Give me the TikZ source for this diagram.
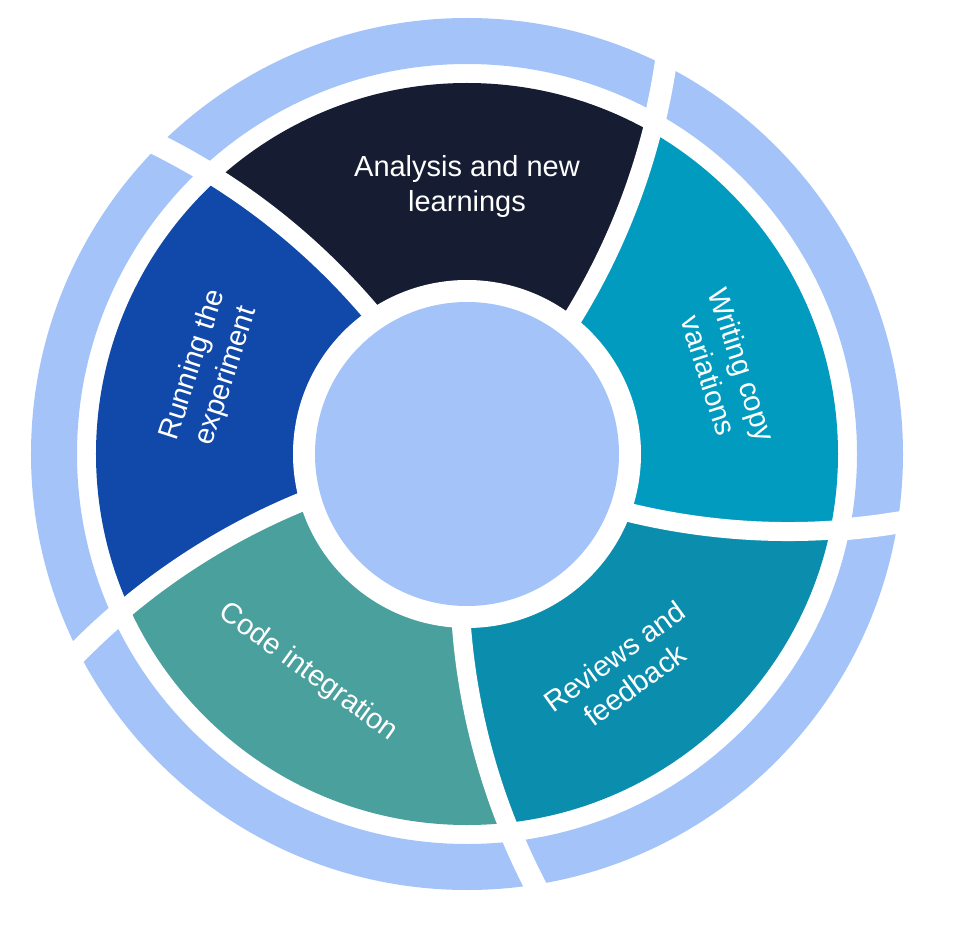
\documentclass[tikz,border=0pt]{standalone}
\usepackage{fontspec}
\setmainfont{Liberation Sans}

\definecolor{hubblue}{HTML}{A3C3F9}
\definecolor{navy}{HTML}{161D33}
\definecolor{cyanteal}{HTML}{009BBE}
\definecolor{deepteal}{HTML}{0B8EAD}
\definecolor{seagreen}{HTML}{4AA09D}
\definecolor{royal}{HTML}{1149AA}

\begin{document}
\begin{tikzpicture}[
    x=1pt, y=1pt,
    seglabel/.style={text=white, align=center, inner sep=0pt, font=\fontsize{29}{35}\selectfont},
    gapline/.style={white, line width=19pt},
    ringgap/.style={white, line width=22pt},
    ringband/.style={hubblue, line width=46pt}
]
    \useasboundingbox (-467,-472) rectangle (493,454);
    % outer ring
    \draw[ringband] (0,0) circle[radius=413];
    % ends of the curved dividers
    \foreach \j in {0,...,4} {
        \path ({133.75-72*\j}:678.6) ++({-32.5-72*\j}:675.3) coordinate (dIn\j);
        \path ({133.75-72*\j}:678.6) ++({-14-72*\j}:675.3) coordinate (dMid\j);
        \path ({133.75-72*\j}:678.6) ++({-6-72*\j}:675.3) coordinate (dOut\j);
    }
    % coloured segments
    \begin{scope}
        \clip (0,0) circle[radius=371];
        \foreach \j/\col in {0/cyanteal, 1/deepteal, 2/seagreen, 3/royal, 4/navy} {
            \pgfmathtruncatemacro{\n}{mod(\j+1,5)}
            \fill[\col] (dIn\j) arc[start angle={-32.5-72*\j}, end angle={-6-72*\j}, radius=675.3]
                -- ({64-72*\j}:700) -- ({-8-72*\j}:700) -- (dOut\n)
                arc[start angle={-6-72*\n}, end angle={-32.5-72*\n}, radius=675.3]
                -- (0,0) -- cycle;
        }
    \end{scope}
    % hub
    \fill[white] (0,0) circle[radius=174];
    \fill[hubblue] (0,0) circle[radius=152];
    % white gaps
    \foreach \j in {0,...,4} {
        \draw[gapline] (dIn\j) arc[start angle={-32.5-72*\j}, end angle={-6-72*\j}, radius=675.3];
        \draw[ringgap] (dMid\j) arc[start angle={-14-72*\j}, end angle={-6-72*\j}, radius=675.3];
    }
    % texts
    \node[seglabel] (analysis) at (90:267) {Analysis and new\\learnings};
    \node[seglabel, rotate=-72] (writing) at (18:272) {Writing copy\\variations};
    \node[seglabel, rotate=36] (reviews) at (-54:268) {Reviews and\\feedback};
    \node[seglabel, rotate=-36] (code) at (-126:270) {Code integration};
    \node[seglabel, rotate=72] (running) at (162:270) {Running the\\experiment};
\end{tikzpicture}
\end{document}
